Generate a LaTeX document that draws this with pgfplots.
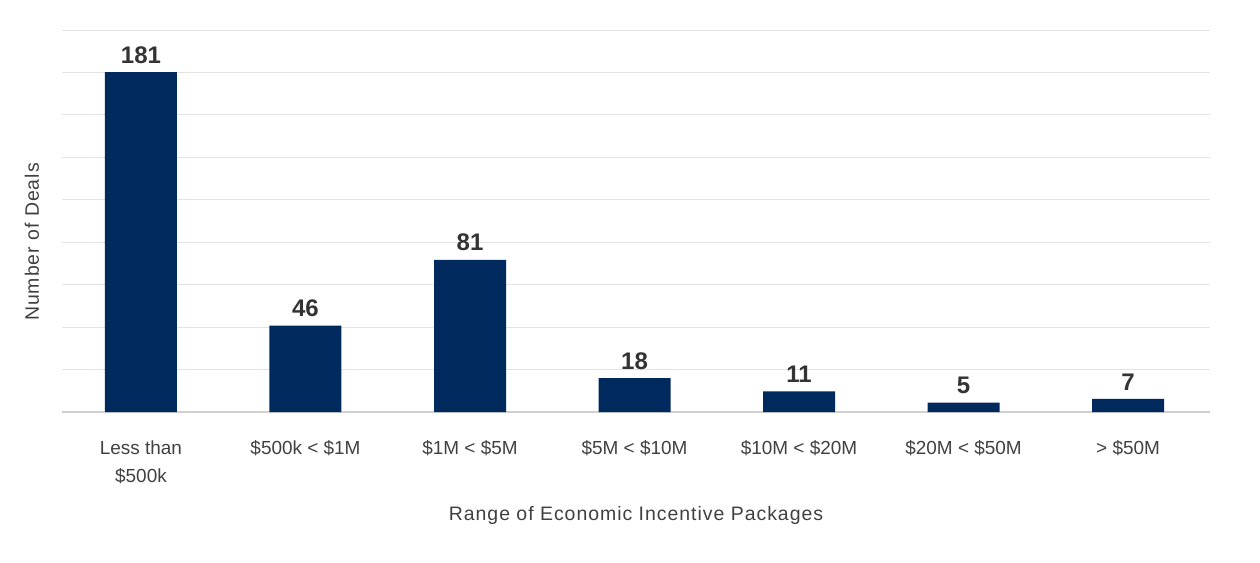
\documentclass[border=0pt]{standalone}
\usepackage{pgfplots}
\pgfplotsset{compat=1.18}
\usepackage{fontspec}
\setmainfont{Liberation Sans}
\newfontfamily\spaced[LetterSpace=5]{Liberation Sans}
\definecolor{barblue}{HTML}{002A5E}
\definecolor{txt}{HTML}{404040}
\definecolor{vtxt}{HTML}{333333}
\definecolor{gridc}{HTML}{E3E3E3}
\definecolor{basec}{HTML}{D0D0D0}
\begin{document}
\begin{tikzpicture}
\useasboundingbox (0,0) rectangle (945pt,421.5pt);
\begin{axis}[
  at={(46.5pt,112.5pt)}, anchor=south west,
  scale only axis, width=861pt, height=286.5pt,
  xmin=-0.48, xmax=6.498, ymin=0, ymax=203.4,
  axis line style={draw=none},
  ytick={22.6,45.2,67.8,90.4,113,135.6,158.2,180.8,203.4},
  yticklabels={},
  ymajorgrids, grid style={gridc, line width=0.75pt},
  major tick length=0pt,
  extra y ticks={0}, extra y tick labels={},
  extra y tick style={grid style={basec, line width=1.3pt}},
  xtick=data,
  xticklabels={{Less than\\\$500k},{\$500k < \$1M},{\$1M < \$5M},{\$5M < \$10M},{\$10M < \$20M},{\$20M < \$50M},{> \$50M}},
  xticklabel style={font=\fontsize{14.2pt}{21.5pt}\selectfont, text=txt, align=center, anchor=north, inner sep=0pt, yshift=-21.25pt},
  xlabel={Range of Economic Incentive Packages},
  xlabel style={font=\spaced\fontsize{14.6pt}{18pt}\selectfont, text=txt, at={(axis description cs:0.5,0)}, anchor=center, yshift=-77.25pt},
  ylabel={Number of Deals},
  ylabel style={font=\spaced\fontsize{14.6pt}{18pt}\selectfont, text=txt, at={(axis description cs:0,0.445)}, anchor=center, yshift=22.5pt},
  ybar, bar width=54pt,
  nodes near coords,
  /pgf/number format/assume math mode=true,
  every node near coord/.append style={font=\bfseries\fontsize{18pt}{20pt}\selectfont, text=vtxt, yshift=3pt},
  clip=false,
]
\addplot[fill=barblue, draw=none] coordinates {(0,181) (1,46) (2,81) (3,18) (4,11) (5,5) (6,7)};
\end{axis}
\end{tikzpicture}
\end{document}
